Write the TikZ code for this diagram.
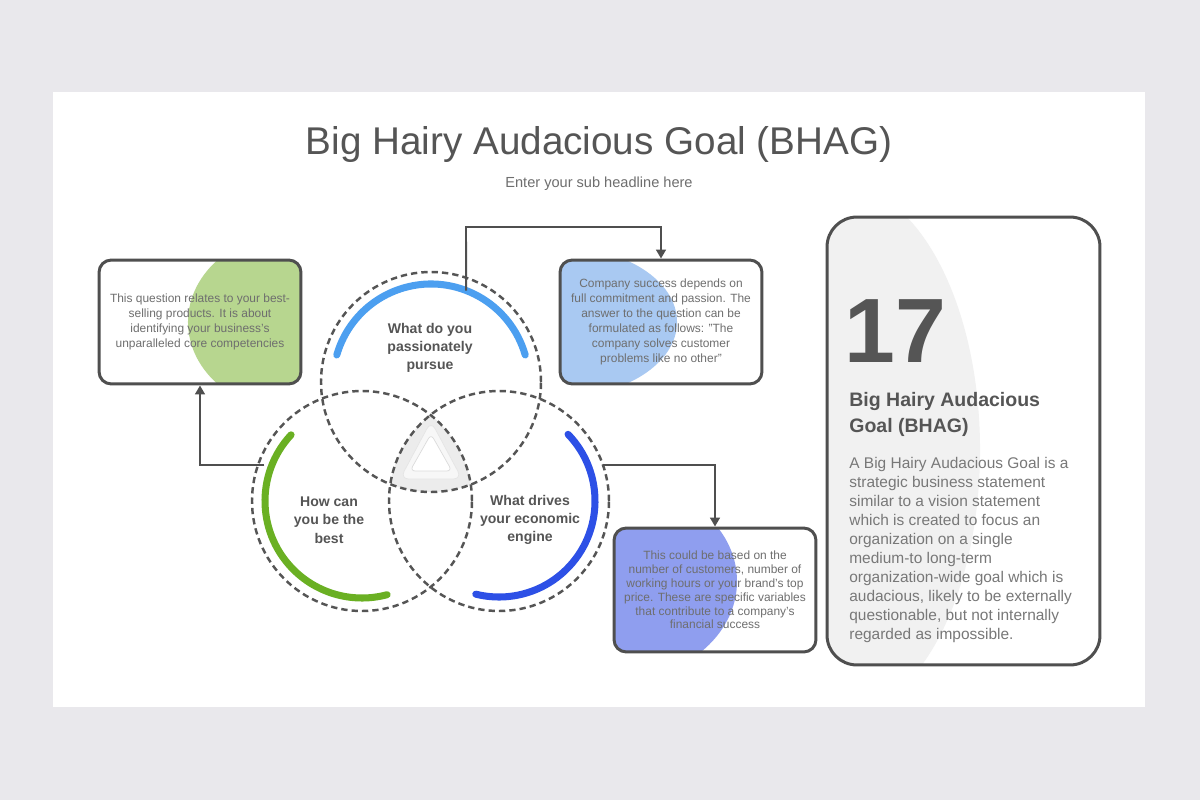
\documentclass[tikz,border=0pt]{standalone}
\usepackage{fontspec}
\setmainfont{Liberation Sans}
\usetikzlibrary{arrows.meta}

\definecolor{bgc}{HTML}{E9E8EC}
\definecolor{ink}{HTML}{555555}
\definecolor{frame}{HTML}{4F4F4F}
\definecolor{soft}{HTML}{6E6E6E}
\definecolor{leafgreen}{HTML}{6AB023}
\definecolor{skyblue}{HTML}{4C9FF0}
\definecolor{deepblue}{HTML}{2D50E6}
\definecolor{palegreen}{HTML}{B7D68F}
\definecolor{paleblue}{HTML}{A9C9F2}
\definecolor{paleviolet}{HTML}{8F9EEF}
\definecolor{palegray}{HTML}{F1F1F1}
\definecolor{hubgray}{HTML}{ECECEC}

\begin{document}
\begin{tikzpicture}[x=0.02cm, y=0.02cm,
    ring/.style={draw=ink, line width=1.4pt, dash pattern=on 3.6pt off 2.3pt},
    band/.style={line width=4pt, line cap=round},
    conn/.style={draw=frame, line width=1.1pt, -{Triangle[length=5pt,width=5.5pt]}},
    qbox/.style={draw=frame, line width=1.7pt, rounded corners=7pt, fill=white,
      minimum width=4.04cm, minimum height=2.48cm, inner sep=0pt,
      align=center, text=soft, font=\fontsize{6.8}{8.5}\selectfont},
    qtitle/.style={text=ink, align=center, font=\bfseries\fontsize{8}{10.4}\selectfont}]

    % page and card
    \fill[bgc] (0,0) rectangle (1200,-800);
    \fill[white] (53,-92) rectangle (1145,-707);

    \draw (599,-155)node[anchor=base, text=ink, font=\fontsize{22}{26}\selectfont](head){Big Hairy Audacious Goal (BHAG)};
    \draw (599,-188)node[anchor=base, text=soft, font=\fontsize{8.3}{10}\selectfont](sub){Enter your sub headline here};

    % three circles
    \coordinate (T) at (431,-382);
    \coordinate (L) at (362,-501);
    \coordinate (R) at (499,-501);

    \begin{scope}
      \clip (T) circle[radius=110];
      \clip (L) circle[radius=110];
      \fill[hubgray] (R) circle[radius=110];
    \end{scope}
    \draw[draw=black!10, fill=black!3, rounded corners=5pt] (431,-421) -- (462,-479) -- (400,-479) -- cycle;
    \draw[draw=black!14, fill=white, rounded corners=3pt] (431,-434) -- (452,-471) -- (410,-471) -- cycle;

    \draw[ring] (T) circle[radius=110];
    \draw[ring] (L) circle[radius=110];
    \draw[ring] (R) circle[radius=110];

    \draw[band, skyblue] ([shift={(16:98)}]T) arc[start angle=16, end angle=164, radius=98];
    \draw[band, leafgreen] ([shift={(137:97)}]L) arc[start angle=137, end angle=285, radius=97];
    \draw[band, deepblue] ([shift={(44:96)}]R) arc[start angle=44, end angle=-104, radius=96];

    \draw (430,-348)node[qtitle](tq){What do you\\passionately\\pursue};
    \draw (329,-520)node[qtitle](lq){How can\\you be the\\best};
    \draw (530,-520)node[qtitle](rq){What drives\\your economic\\engine};

    % question boxes
    \draw (200,-322)node[qbox, path picture={\fill[palegreen] (path picture bounding box.east) ellipse[x radius=113, y radius=92];}](gb){This question relates to your best-\\selling products. It is about\\identifying your business's\\unparalleled core competencies};
    \draw (661,-322)node[qbox, path picture={\fill[paleblue] (path picture bounding box.west) ellipse[x radius=117, y radius=75];}](bb){Company success depends on\\full commitment and passion. The\\answer to the question can be\\formulated as follows: "The\\company solves customer\\problems like no other"};
    \draw (715,-590)node[qbox, font=\fontsize{6.8}{7.9}\selectfont, path picture={\fill[paleviolet] ([yshift=5]path picture bounding box.west) ellipse[x radius=123, y radius=100];}](vb){This could be based on the\\number of customers, number of\\working hours or your brand's top\\price. These are specific variables\\that contribute to a company's\\financial success};

    % connectors
    \coordinate (p1) at ([shift={(69:98)}]T);
    \coordinate (k1) at (466,-227);
    \coordinate (p2) at ([shift={(160:104)}]L);
    \coordinate (p3) at ([shift={(19:110)}]R);
    \draw[conn] (p1) -- (k1) -| (bb.north);
    \draw[conn] (p2) -| (gb.south);
    \draw[conn] (p3) -| (vb.north);

    % side card
    \draw (963.5,-441)node[draw=frame, line width=1.7pt, rounded corners=17pt, fill=white,
      minimum width=5.46cm, minimum height=8.96cm, inner sep=0pt,
      path picture={\fill[palegray] ([shift={(13,-9)}]path picture bounding box.west) ellipse[x radius=140, y radius=265];}](card){};
    \draw (844,-363)node[anchor=base west, inner sep=0pt, text=ink, font=\bfseries\fontsize{52}{52}\selectfont](num){17};
    \draw (849,-392)node[anchor=north west, inner sep=0pt, align=left, text=ink, font=\bfseries\fontsize{11.1}{15}\selectfont](ct){Big Hairy Audacious\\Goal (BHAG)};
    \draw (849,-457)node[anchor=north west, inner sep=0pt, align=left, text=black!53, font=\fontsize{8.8}{10.8}\selectfont](cb){A Big Hairy Audacious Goal is a\\strategic business statement\\similar to a vision statement\\which is created to focus an\\organization on a single\\medium-to long-term\\organization-wide goal which is\\audacious, likely to be externally\\questionable, but not internally\\regarded as impossible.};
\end{tikzpicture}
\end{document}
